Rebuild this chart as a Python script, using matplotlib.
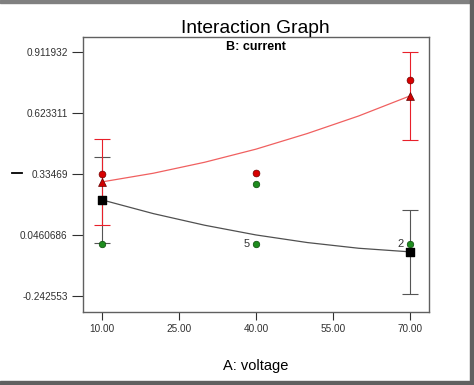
import numpy as np
import matplotlib.pyplot as plt
from matplotlib.patches import Rectangle
from matplotlib.lines import Line2D

plt.rcParams['font.family'] = ['Liberation Sans', 'DejaVu Sans']

# A: voltage levels and fitted curves
curve_x = [10, 20, 30, 40, 50, 60, 70]
red_curve = [0.297, 0.338, 0.390, 0.452, 0.526, 0.609, 0.704]
black_curve = [0.212, 0.147, 0.092, 0.046, 0.010, -0.017, -0.034]

# end points with error bars
end_x = [10, 70]
red_mean = [0.297, 0.704]
red_err = [0.203, 0.208]
black_mean = [0.212, -0.034]
black_err = [0.202, 0.200]

# design points
red_pts_x = [10, 40, 70]
red_pts_y = [0.335, 0.339, 0.779]
green_pts_x = [10, 40, 40, 70]
green_pts_y = [0.005, 0.287, 0.004, 0.004]
point_labels = [(40, 0.004, "5"), (70, 0.004, "2")]

yticks = [-0.242553, 0.0460686, 0.33469, 0.623311, 0.911932]
ytick_labels = ["-0.242553", "0.0460686", "0.33469", "0.623311", "0.911932"]
xticks = [10, 25, 40, 55, 70]
xtick_labels = ["10.00", "25.00", "40.00", "55.00", "70.00"]

fig = plt.figure(figsize=(4.74, 3.85), dpi=100)
ax = fig.add_axes([0.175, 0.190, 0.730, 0.714])

red = "#e8202a"
green = "#1e8c1e"

ax.plot(curve_x, red_curve, color="#f06060", lw=0.9, zorder=2)
ax.plot(curve_x, black_curve, color="#505050", lw=0.9, zorder=2)

ax.errorbar(end_x, red_mean, yerr=red_err, fmt="none", ecolor=red,
            elinewidth=0.8, capsize=6, capthick=0.8, zorder=3)
ax.errorbar(end_x, black_mean, yerr=black_err, fmt="none", ecolor="#555555",
            elinewidth=0.8, capsize=6, capthick=0.8, zorder=2.5)

ax.scatter(end_x, red_mean, marker="^", s=32, c="#d00000",
           edgecolors="#600000", linewidths=0.5, zorder=5)
ax.scatter(end_x, black_mean, marker="s", s=28, c="black", zorder=5)
ax.scatter(red_pts_x, red_pts_y, marker="o", s=24, c="#d80000",
           edgecolors="#700000", linewidths=0.5, zorder=5)
ax.scatter(green_pts_x, green_pts_y, marker="o", s=22, c=green,
           edgecolors="#0a4a0a", linewidths=0.5, zorder=5)
for px, py, lab in point_labels:
    ax.text(px - 1.2, py, lab, ha="right", va="center", fontsize=8,
            color="#333333")

ax.set_xlim(6.3, 73.7)
ax.set_ylim(-0.318, 0.983)
ax.set_xticks(xticks)
ax.set_xticklabels(xtick_labels)
ax.set_yticks(yticks)
ax.set_yticklabels(ytick_labels)
ax.tick_params(axis="both", labelsize=7.2, colors="#303030", width=0.8)
ax.tick_params(axis="y", length=8, pad=3)
ax.tick_params(axis="x", length=6, pad=3)
for sp in ax.spines.values():
    sp.set_color("#606060")
    sp.set_linewidth(1.0)

ax.text(0.5, 0.985, "B: current", transform=ax.transAxes, ha="center",
        va="top", fontsize=9, fontweight="bold")
fig.text(0.538, 0.927, "Interaction Graph", ha="center", va="center",
         fontsize=13.9)
ax.set_xlabel("A: voltage", fontsize=10.5, labelpad=18)

# stray dash at the left edge
fig.add_artist(Line2D([12 / 474, 22 / 474], [1 - 173 / 385, 1 - 173 / 385],
                      color="black", lw=1.3))

# grey frame around the screenshot
fig.add_artist(Rectangle((0, 1 - 3 / 385), 1, 3 / 385, color="#808080",
                         transform=fig.transFigure))
fig.add_artist(Rectangle((470 / 474, 0), 4 / 474, 1, color="#606060",
                         transform=fig.transFigure))
fig.add_artist(Rectangle((0, 0), 1, 4 / 385, color="#606060",
                         transform=fig.transFigure))

fig.savefig("out.png", dpi=100)
